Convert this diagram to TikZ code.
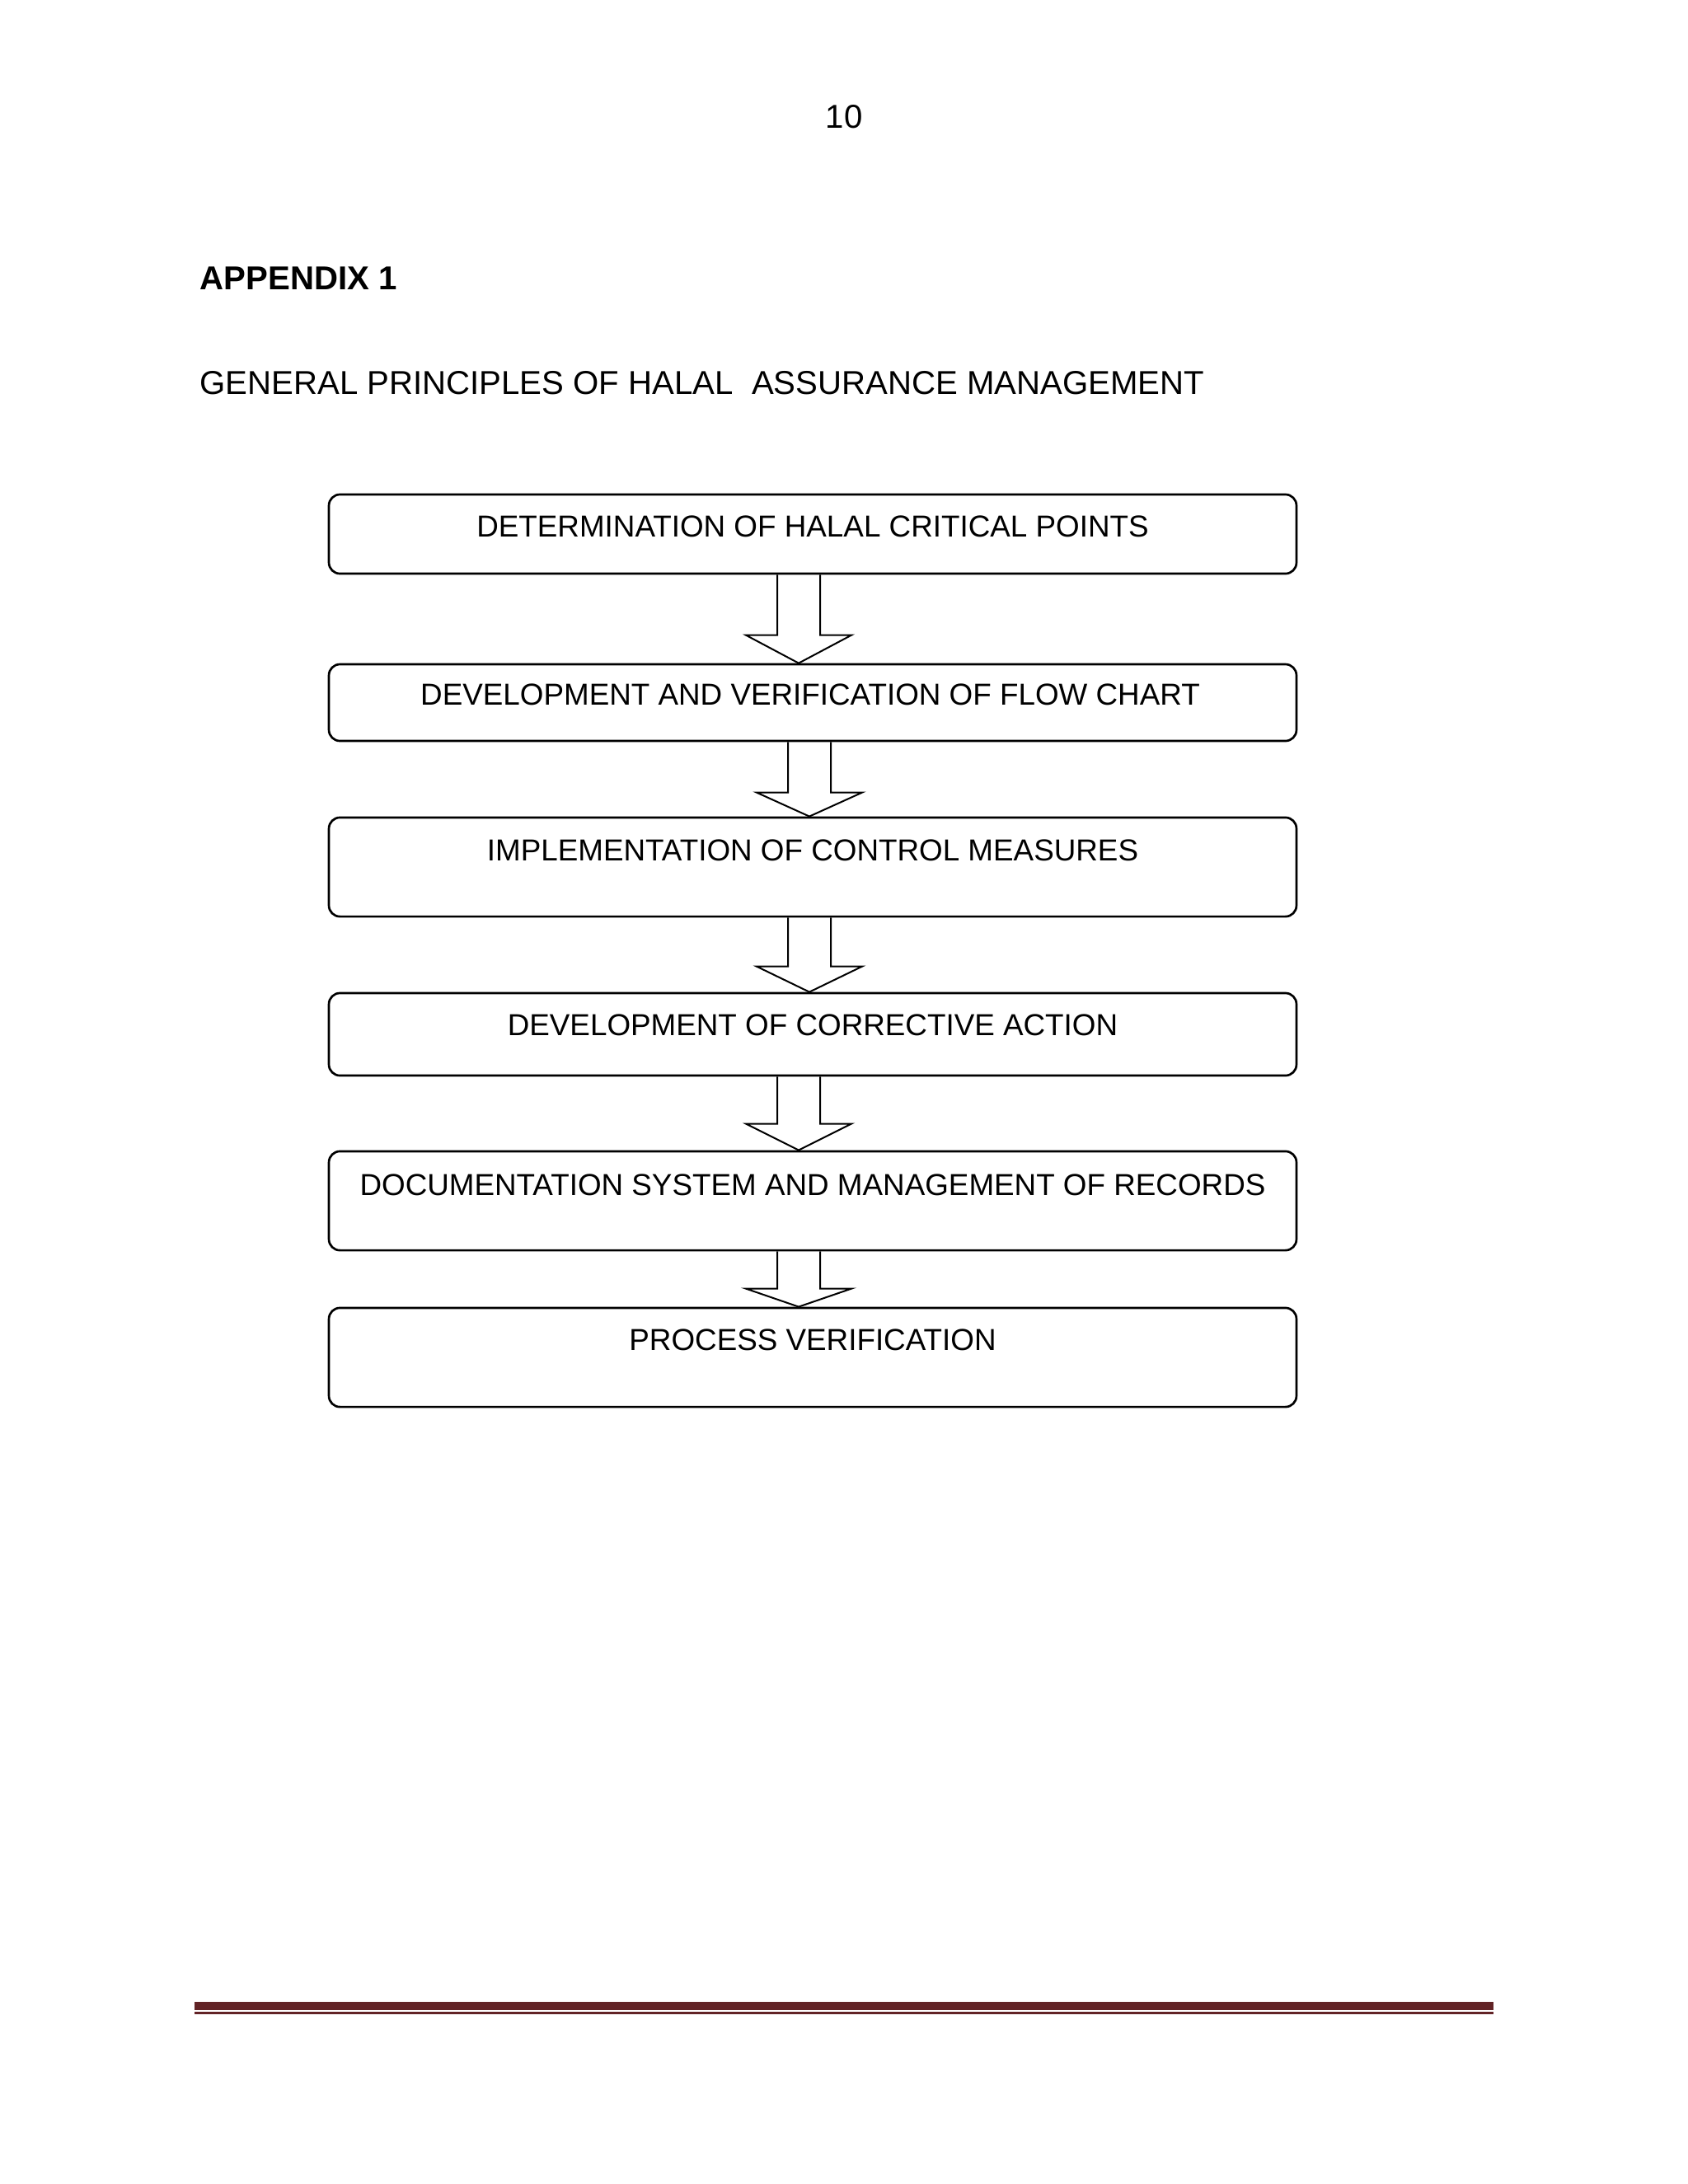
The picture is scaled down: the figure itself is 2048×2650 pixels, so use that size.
\documentclass[tikz,border=0pt]{standalone}
\usepackage{fontspec}
\setmainfont{Liberation Sans}
\usetikzlibrary{calc}
\definecolor{footred}{RGB}{98,35,38}
\newcommand\blockarrow[4]{%
  \coordinate (#3) at (#4,0);
  \draw[barrow] ($(#3 |- #1.south)+(-26,0)$) -- ($(#3 |- #2.north)+(-26,-\hl)$) -- ++(-38,0)
    -- (#3 |- #2.north) -- ($(#3 |- #2.north)+(64,-\hl)$) -- ++(-38,0) -- ($(#3 |- #1.south)+(26,0)$);}
\begin{document}
\begin{tikzpicture}[x=0.29883pt,y=-0.29883pt,
  every node/.style={font=\fontsize{12}{14}\selectfont},
  box/.style={draw, rounded corners=4pt, line width=0.8pt, minimum width=350.8pt, inner sep=0pt},
  lbl/.style={inner sep=0pt, anchor=center, font=\fontsize{11}{13}\selectfont},
  barrow/.style={draw, line width=0.6pt, line join=miter}]
\useasboundingbox (0,0) rectangle (2048,2650);
\node[inner sep=0pt] (pg) at (1024,142) {10};
\node[inner sep=0pt, anchor=west, font=\fontsize{12}{14}\selectfont\bfseries] (app) at (242,338) {APPENDIX 1};
\node[inner sep=0pt, anchor=west] (title) at (242,465) {GENERAL PRINCIPLES OF HALAL~~ASSURANCE MANAGEMENT};

\node[box, minimum height=28.7pt] (b1) at (986,648) {};
\node[box, minimum height=27.8pt] (b2) at (986,852.5) {};
\node[box, minimum height=35.9pt] (b3) at (986,1052) {};
\node[box, minimum height=29.9pt] (b4) at (986,1255) {};
\node[box, minimum height=35.9pt] (b5) at (986,1457) {};
\node[box, minimum height=35.9pt] (b6) at (986,1647) {};

\node[lbl] (t1) at (986,639) {DETERMINATION OF HALAL CRITICAL POINTS};
\node[lbl] (t2) at (983,843) {DEVELOPMENT AND VERIFICATION OF FLOW CHART};
\node[lbl] (t3) at (986,1032) {IMPLEMENTATION OF CONTROL MEASURES};
\node[lbl] (t4) at (986,1244) {DEVELOPMENT OF CORRECTIVE ACTION};
\node[lbl] (t5) at (986,1438) {DOCUMENTATION SYSTEM AND MANAGEMENT OF RECORDS};
\node[lbl] (t6) at (986,1626) {PROCESS VERIFICATION};

\def\hl{34}\blockarrow{b1}{b2}{a1}{969}
\def\hl{29}\blockarrow{b2}{b3}{a2}{982}
\def\hl{31}\blockarrow{b3}{b4}{a3}{982}
\def\hl{32}\blockarrow{b4}{b5}{a4}{969}
\def\hl{22}\blockarrow{b5}{b6}{a5}{969}

\fill[footred] (236,2429) rectangle (1812,2439);
\fill[footred] (236,2441) rectangle (1812,2444);
\end{tikzpicture}
\end{document}
